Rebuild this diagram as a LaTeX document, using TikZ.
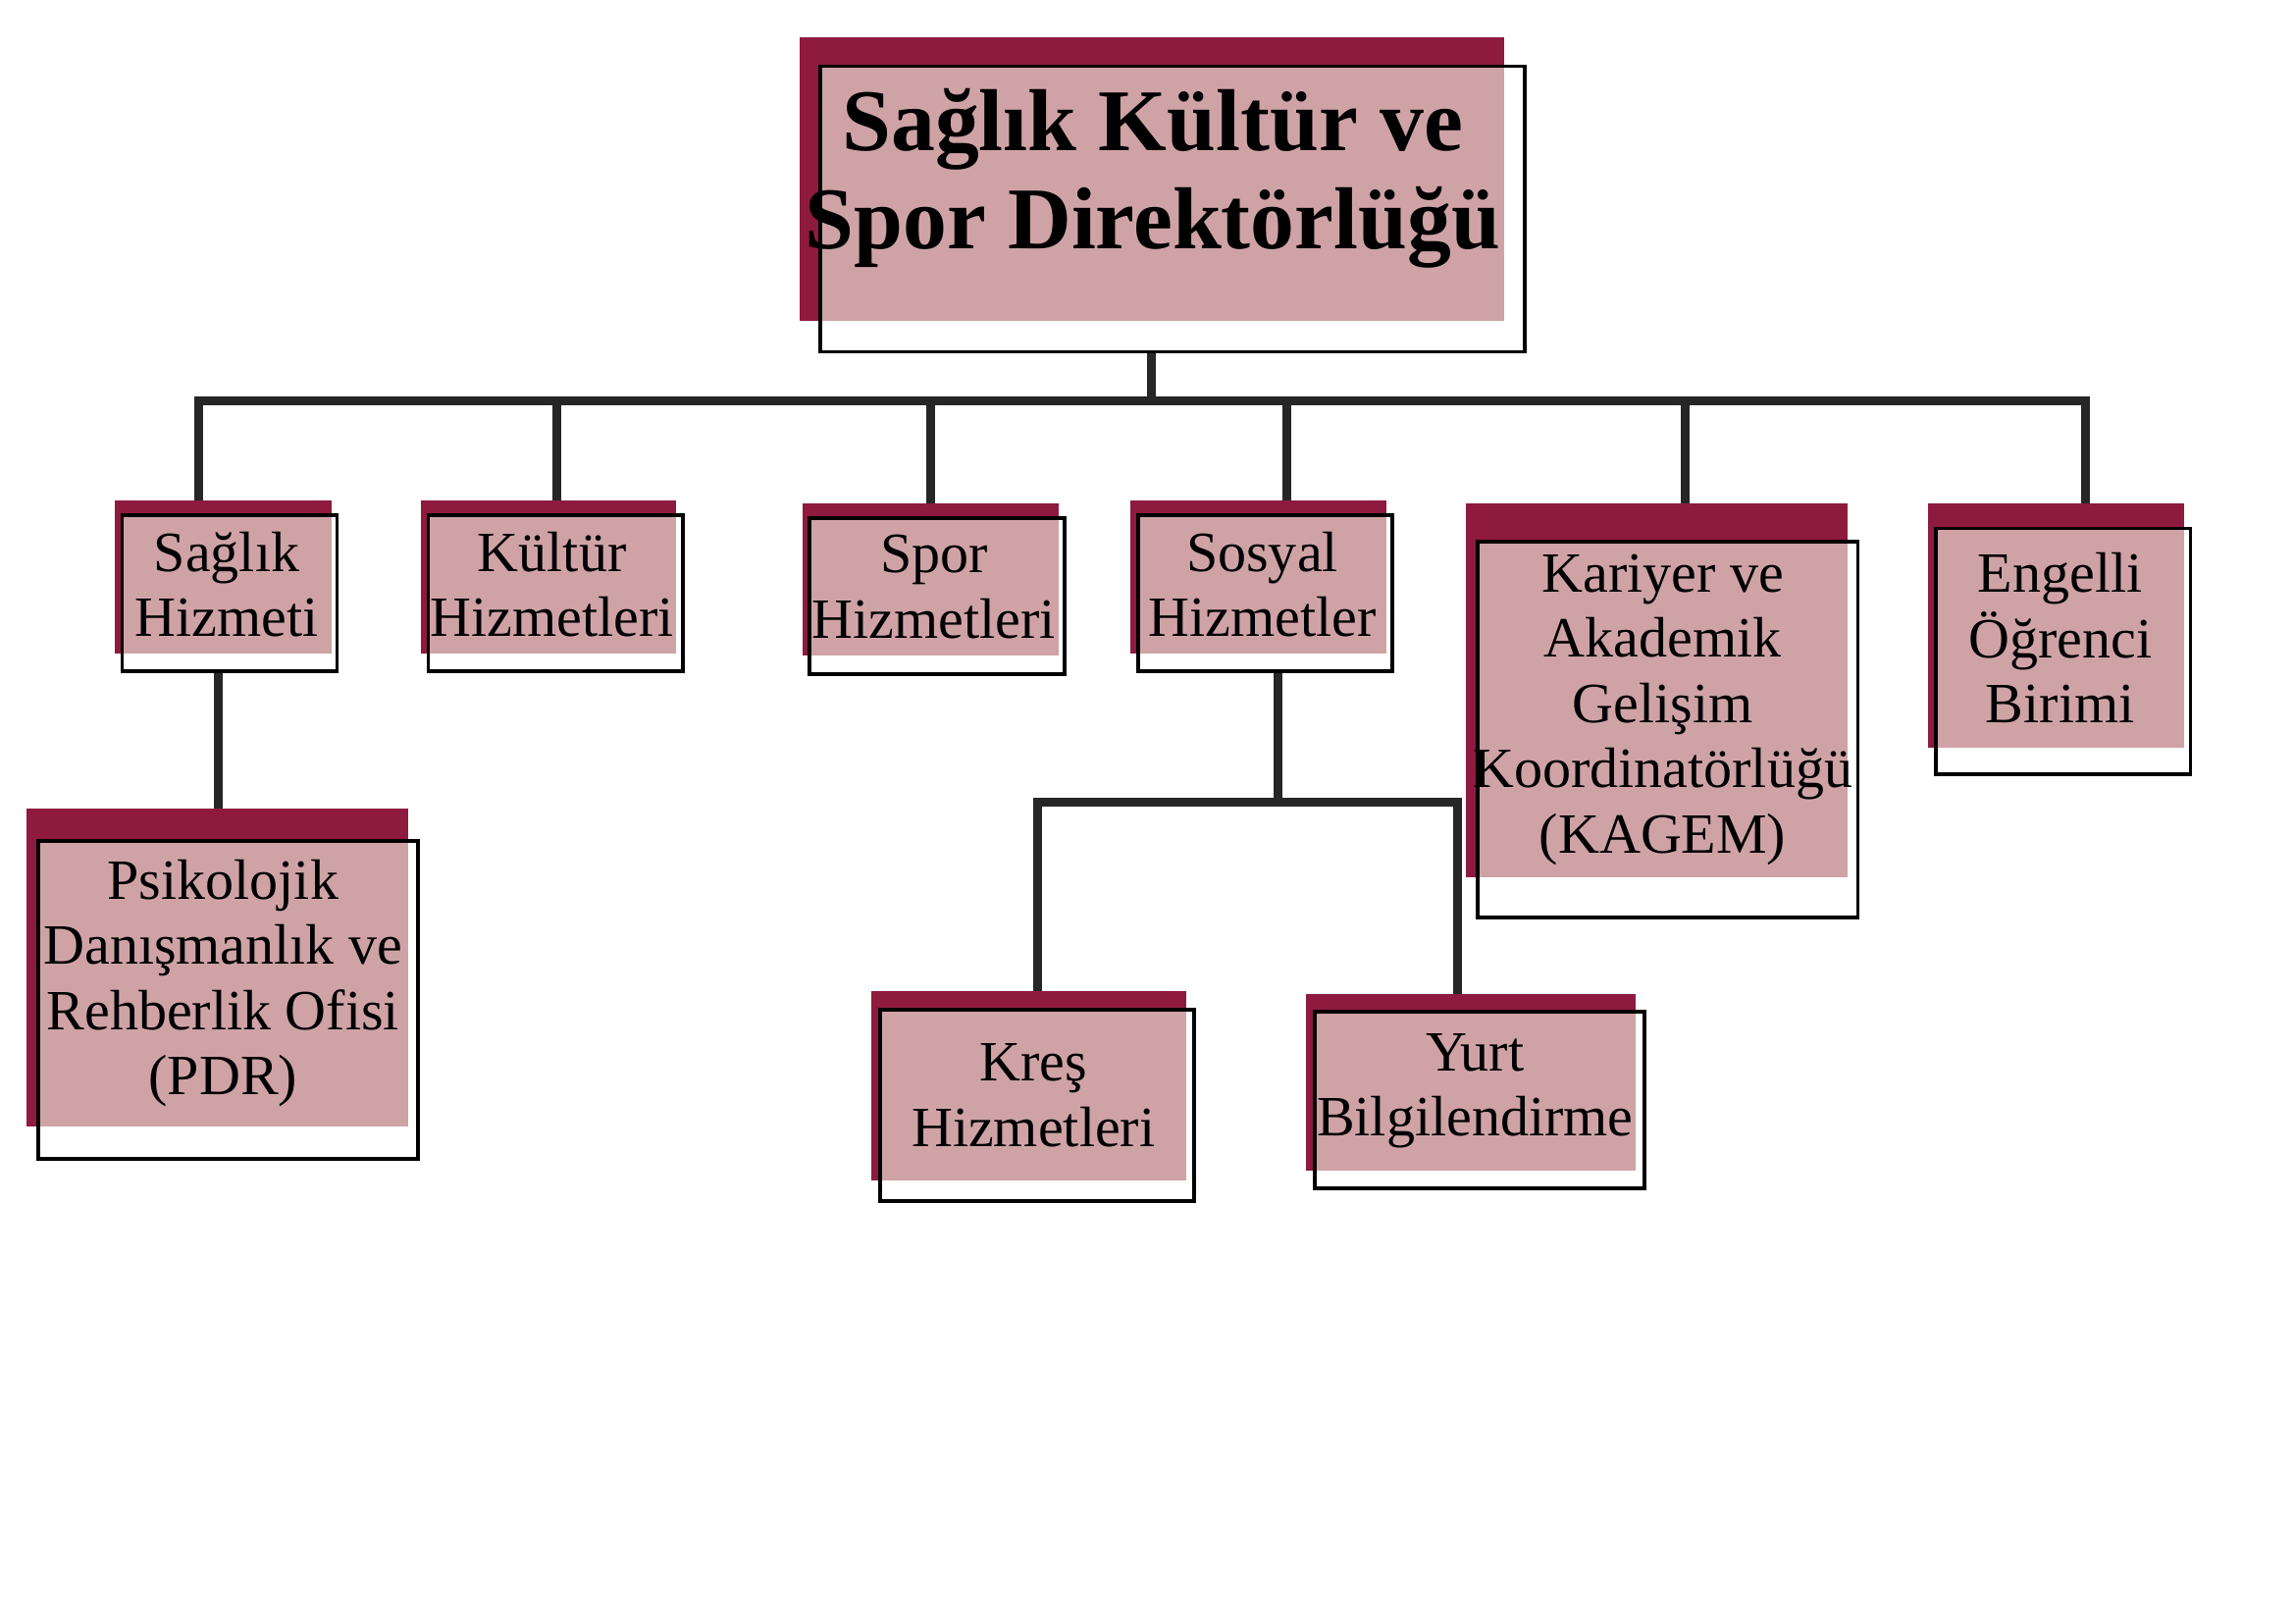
\documentclass[tikz,border=0pt]{standalone}
\usepackage{fontspec}
\setmainfont{Liberation Serif}
\usetikzlibrary{calc}
\definecolor{maroon}{HTML}{8E1A40}
\definecolor{rose}{HTML}{CFA3A6}
\tikzset{
  darkpart/.style={fill=maroon},
  rosepart/.style={fill=rose},
  frame/.style={draw=black, line width=0.7pt},
  boxtext/.style={align=center, font=\fontsize{11}{12.6}\selectfont, inner sep=0pt},
  link/.style={draw=black!85, line width=1.7pt}
}
% name, dark corner, rose corner, far corner, frame corner, text
\newcommand{\orgbox}[6]{%
  \fill[darkpart] (#2) rectangle (#4);
  \fill[rosepart] (#3) rectangle (#4);
  \draw[frame] (#3) rectangle (#5);
  \node[boxtext] (#1) at ($(#3)!0.5!(#4)$) {#6};
}
\begin{document}
\begin{tikzpicture}[x=0.01cm,y=-0.01cm]
    \useasboundingbox (0,0) rectangle (1559,1103);

    % connectors first
    \coordinate (top) at (782,239);
    \coordinate (bus) at (782,272);
    \coordinate (d1) at (135,340);
    \coordinate (d2) at (378,340);
    \coordinate (d3) at (632,342);
    \coordinate (d4) at (874,340);
    \coordinate (d5) at (1145,342);
    \coordinate (d6) at (1417,342);
    \draw[link] (top) -- (bus);
    \draw[link] (d1) |- (bus) -| (d6);
    \foreach \d in {d2,d3,d4,d5} \draw[link] (\d) -- (\d |- bus);

    \coordinate (s1) at (148,456);
    \coordinate (p1) at (148,549);
    \draw[link] (s1) -- (p1);

    \coordinate (s4) at (868,456);
    \coordinate (sbus) at (868,545);
    \coordinate (k1) at (705,673);
    \coordinate (y1) at (990,675);
    \draw[link] (s4) -- (sbus);
    \draw[link] (k1) |- (sbus) -| (y1);

    % boxes
    \fill[darkpart] (543,25) rectangle (1022,218);
    \fill[rosepart] (557,45) rectangle (1022,218);
    \draw[frame] (557,45) rectangle (1036,239);
    \node[align=center, inner sep=0pt, font=\bfseries\fontsize{17}{19}\selectfont] (direktor) at (783,121) {Sağlık Kültür ve\\Spor Direktörlüğü};

    \orgbox{saglik}{78,340}{83,350}{225,444}{229,456}{Sağlık\\Hizmeti}
    \orgbox{kultur}{286,340}{291,350}{459,444}{464,456}{Kültür\\Hizmetleri}
    \orgbox{spor}{545,342}{550,352}{719,445}{723,458}{Spor\\Hizmetleri}
    \orgbox{sosyal}{768,340}{773,350}{942,444}{946,456}{Sosyal\\Hizmetler}
    \orgbox{kagem}{996,342}{1004,368}{1255,596}{1262,623}{Kariyer ve\\Akademik\\Gelişim\\Koordinatörlüğü\\(KAGEM)}
    \orgbox{engelli}{1310,342}{1315,359}{1484,508}{1488,526}{Engelli\\Öğrenci\\Birimi}
    \orgbox{pdr}{18,549}{26,571}{277,765}{284,787}{Psikolojik\\Danışmanlık ve\\Rehberlik Ofisi\\(PDR)}
    \orgbox{kres}{592,673}{598,686}{806,802}{811,816}{Kreş\\Hizmetleri}
    \orgbox{yurt}{887,675}{893,687}{1111,795}{1117,807}{Yurt\\Bilgilendirme}

\end{tikzpicture}
\end{document}
